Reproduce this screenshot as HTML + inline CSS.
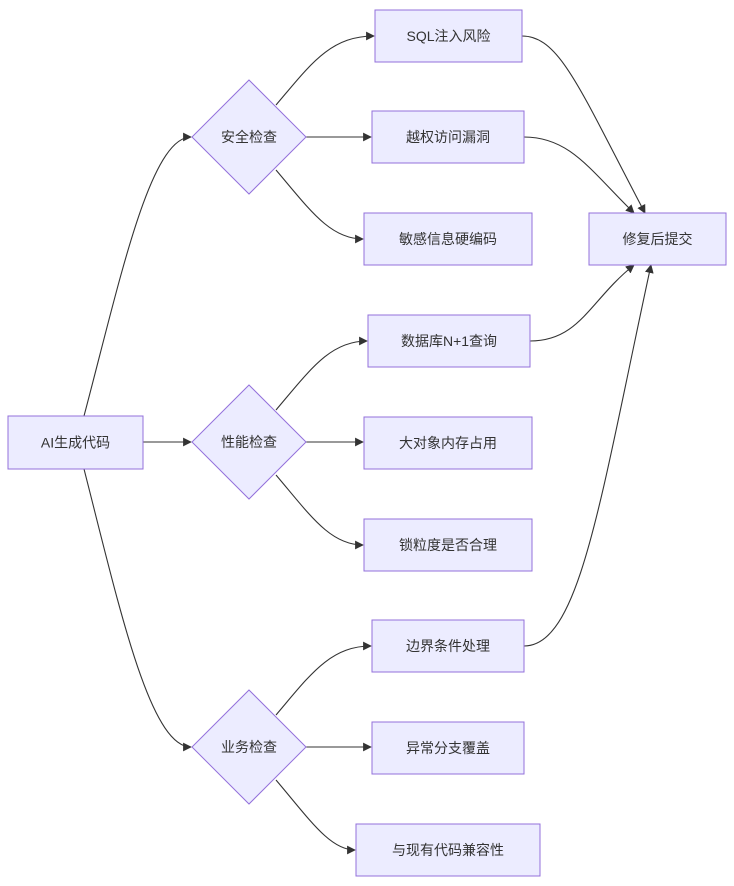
<!DOCTYPE html>
<html><head><meta charset="utf-8"><style>
html,body{margin:0;padding:0;background:#fff;}
svg{display:block;}
text{font-family:"Liberation Sans","Noto Sans CJK SC",sans-serif;font-size:14px;fill:#333;text-anchor:middle;dominant-baseline:central;}
.n{fill:#ECECFF;stroke:#9370DB;stroke-width:1;}
.e{fill:none;stroke:#333;stroke-width:1.1;}
</style></head><body>
<svg width="734" height="886" viewBox="0 0 734 886" xmlns="http://www.w3.org/2000/svg">
<defs><marker id="a" viewBox="0 0 10 10" refX="9" refY="5" markerWidth="8" markerHeight="8" orient="auto-start-reverse"><path d="M0,0L10,5L0,10z" fill="#333"/></marker></defs>
<!-- edges from AI -->
<path class="e" d="M84,416 C120,280 150,137 191,137" marker-end="url(#a)"/>
<path class="e" d="M143,442 L191,442" marker-end="url(#a)"/>
<path class="e" d="M84,469 C120,610 150,747 191,747" marker-end="url(#a)"/>
<!-- safety -->
<path class="e" d="M276,105 C310,65 330,36 374,36" marker-end="url(#a)"/>
<path class="e" d="M306,137 L371,137" marker-end="url(#a)"/>
<path class="e" d="M276,170 C310,210 330,239 363,239" marker-end="url(#a)"/>
<!-- perf -->
<path class="e" d="M276,410 C310,370 330,341 367,341" marker-end="url(#a)"/>
<path class="e" d="M306,442 L363,442" marker-end="url(#a)"/>
<path class="e" d="M276,475 C310,515 330,545 363,545" marker-end="url(#a)"/>
<!-- business -->
<path class="e" d="M276,715 C310,675 330,646 371,646" marker-end="url(#a)"/>
<path class="e" d="M306,747 L371,747" marker-end="url(#a)"/>
<path class="e" d="M276,780 C310,820 330,850 355,850" marker-end="url(#a)"/>
<!-- to fix -->
<path class="e" d="M522,36 C560,36 580,90 645,213" marker-end="url(#a)"/>
<path class="e" d="M524,137 C570,137 590,170 634,213" marker-end="url(#a)"/>
<path class="e" d="M530,341 C580,341 590,300 634,265" marker-end="url(#a)"/>
<path class="e" d="M524,646 C580,646 600,500 651,265" marker-end="url(#a)"/>
<!-- nodes -->
<rect class="n" x="8" y="416" width="135" height="53"/><text x="75.5" y="442.5">AI生成代码</text>
<polygon class="n" points="249,80 306,137 249,194 192,137"/><text x="249" y="137">安全检查</text>
<polygon class="n" points="249,385 306,442 249,499 192,442"/><text x="249" y="442">性能检查</text>
<polygon class="n" points="249,690 306,747 249,804 192,747"/><text x="249" y="747">业务检查</text>
<rect class="n" x="375" y="10" width="147" height="52"/><text x="448.5" y="36">SQL注入风险</text>
<rect class="n" x="372" y="111" width="152" height="52"/><text x="448" y="137">越权访问漏洞</text>
<rect class="n" x="364" y="213" width="168" height="52"/><text x="448" y="239">敏感信息硬编码</text>
<rect class="n" x="368" y="315" width="162" height="52"/><text x="449" y="341">数据库N+1查询</text>
<rect class="n" x="364" y="417" width="168" height="52"/><text x="448" y="443">大对象内存占用</text>
<rect class="n" x="364" y="519" width="168" height="52"/><text x="448" y="545">锁粒度是否合理</text>
<rect class="n" x="372" y="620" width="152" height="52"/><text x="448" y="646">边界条件处理</text>
<rect class="n" x="372" y="722" width="152" height="52"/><text x="448" y="748">异常分支覆盖</text>
<rect class="n" x="356" y="824" width="184" height="52"/><text x="448" y="850">与现有代码兼容性</text>
<rect class="n" x="589" y="213" width="137" height="52"/><text x="657.5" y="239">修复后提交</text>
</svg>
</body></html>
